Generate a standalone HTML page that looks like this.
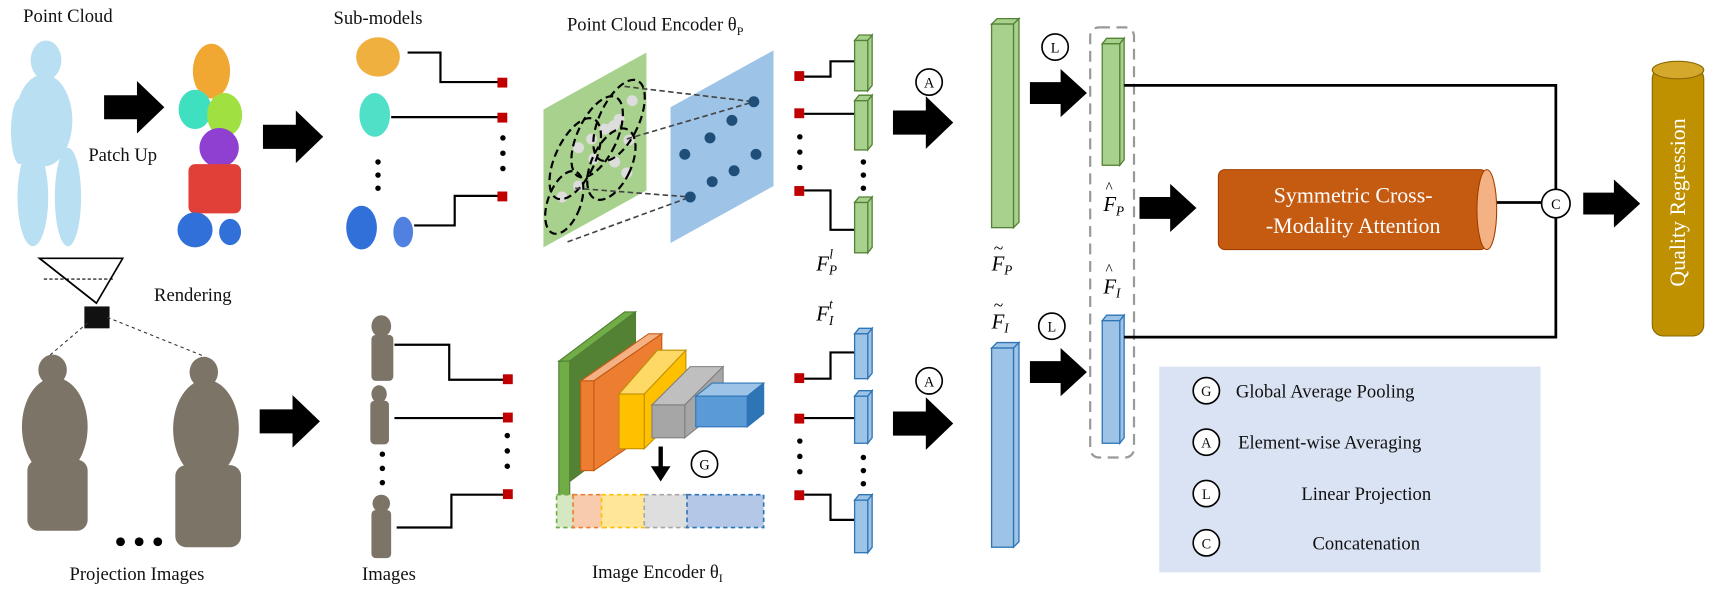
<!DOCTYPE html>
<html><head><meta charset="utf-8"><style>
html,body{margin:0;padding:0;background:#fff;}
svg{display:block;}
text{font-family:"Liberation Serif",serif;}
</style></head><body>
<svg width="1718" height="591" viewBox="0 0 1568 540" preserveAspectRatio="none" xmlns="http://www.w3.org/2000/svg">
<defs>
<g id="arr"><polygon points="0,-11 30,-11 30,-24 55,0 30,24 30,11 0,11" fill="#000"/></g>
<g id="arrS"><polygon points="0,-10 28,-10 28,-22 52,0 28,22 28,10 0,10" fill="#000"/></g>
</defs>
<rect width="1568" height="540" fill="#fff"/>

<!-- titles -->
<g font-size="17" fill="#111" text-anchor="middle">
<text x="62" y="20">Point Cloud</text>
<text x="345" y="22">Sub-models</text>
<text x="598" y="28">Point Cloud Encoder θ<tspan font-size="11" dy="4">P</tspan></text>
<text x="125" y="530">Projection Images</text>
<text x="355" y="530">Images</text>
<text x="600" y="528">Image Encoder θ<tspan font-size="11" dy="4">I</tspan></text>
<text x="112" y="147">Patch Up</text>
<text x="176" y="275">Rendering</text>
</g>

<!-- point cloud figure -->
<g fill="#a8d8ef" opacity="0.8">
<ellipse cx="42" cy="55" rx="14" ry="18"/>
<ellipse cx="40" cy="110" rx="26" ry="42"/>
<ellipse cx="30" cy="180" rx="14" ry="45"/>
<ellipse cx="62" cy="180" rx="12" ry="45"/>
<ellipse cx="18" cy="120" rx="8" ry="30"/>
</g>
<use href="#arr" x="95" y="98"/>
<!-- colored figure -->
<ellipse cx="193" cy="65" rx="17" ry="25" fill="#f0a832"/>
<ellipse cx="178" cy="100" rx="15" ry="18" fill="#3ee0c0"/>
<ellipse cx="205" cy="105" rx="16" ry="20" fill="#a0e040"/>
<ellipse cx="200" cy="135" rx="18" ry="18" fill="#9040d0"/>
<rect x="172" y="150" width="48" height="45" fill="#e04038" rx="6"/>
<ellipse cx="178" cy="210" rx="16" ry="16" fill="#3070d8"/>
<ellipse cx="210" cy="212" rx="10" ry="12" fill="#3070d8"/>
<use href="#arr" x="240" y="125"/>

<!-- sub-models -->
<ellipse cx="345" cy="52" rx="20" ry="18" fill="#f0b040"/>
<ellipse cx="342" cy="105" rx="14" ry="20" fill="#50e0c8"/>
<ellipse cx="330" cy="208" rx="14" ry="20" fill="#3070d8"/>
<ellipse cx="368" cy="212" rx="9" ry="14" fill="#5080e0"/>
<g fill="#000"><circle cx="345" cy="148" r="2.5"/><circle cx="345" cy="160" r="2.5"/><circle cx="345" cy="172" r="2.5"/>
<circle cx="459" cy="126" r="2.5"/><circle cx="459" cy="140" r="2.5"/><circle cx="459" cy="154" r="2.5"/></g>
<g stroke="#000" stroke-width="2" fill="none">
<polyline points="372,48 402,48 402,75 456,75"/>
<polyline points="357,107 456,107"/>
<polyline points="378,206 415,206 415,179 456,179"/>
</g>
<g fill="#c00000"><rect x="454" y="71" width="9" height="9"/><rect x="454" y="103" width="9" height="9"/><rect x="454" y="175" width="9" height="9"/></g>

<!-- point cloud encoder -->
<polygon points="496,100 590,48 590,174 496,226" fill="#a9d18e"/>
<polygon points="612,98 706,46 706,170 612,222" fill="#9dc3e6"/>
<g fill="#ddd">
<circle cx="577" cy="92" r="5"/><circle cx="565" cy="109" r="5"/><circle cx="552" cy="118" r="5"/><circle cx="540" cy="127" r="5"/><circle cx="528" cy="135" r="5"/>
<circle cx="574" cy="128" r="5"/><circle cx="561" cy="148" r="5"/><circle cx="542" cy="145" r="5"/><circle cx="528" cy="170" r="5"/><circle cx="572" cy="158" r="5"/><circle cx="513" cy="180" r="5"/><circle cx="560" cy="115" r="5"/>
</g>
<g fill="none" stroke="#000" stroke-width="2" stroke-dasharray="7,4">
<ellipse cx="565" cy="110" rx="18" ry="40" transform="rotate(25 565 110)"/>
<ellipse cx="545" cy="125" rx="18" ry="40" transform="rotate(25 545 125)"/>
<ellipse cx="525" cy="145" rx="18" ry="40" transform="rotate(25 525 145)"/>
<ellipse cx="558" cy="150" rx="18" ry="35" transform="rotate(25 558 150)"/>
<ellipse cx="515" cy="185" rx="15" ry="30" transform="rotate(20 515 185)"/>
</g>
<g stroke="#444" stroke-width="1.5" stroke-dasharray="5,3">
<line x1="570" y1="79" x2="688" y2="93"/><line x1="572" y1="127" x2="688" y2="93"/>
<line x1="525" y1="172" x2="630" y2="180"/><line x1="518" y1="221" x2="630" y2="180"/>
</g>
<g fill="#1f4e79">
<circle cx="688" cy="93" r="5"/><circle cx="668" cy="110" r="5"/><circle cx="648" cy="126" r="5"/><circle cx="625" cy="141" r="5"/><circle cx="690" cy="141" r="5"/><circle cx="670" cy="156" r="5"/><circle cx="650" cy="166" r="5"/><circle cx="630" cy="180" r="5"/>
</g>

<!-- point features -->
<g fill="#c00000"><rect x="725" y="65" width="9" height="9"/><rect x="725" y="99" width="9" height="9"/><rect x="725" y="170" width="9" height="9"/></g>
<g stroke="#000" stroke-width="2" fill="none">
<polyline points="734,70 758,70 758,56 782,56"/>
<polyline points="734,104 782,104"/>
<polyline points="734,174 758,174 758,210 782,210"/>
</g>
<g fill="#a9d18e" stroke="#548235" stroke-width="1.2">
<polygon points="780,37 784,32 796,32 792,37"/><polygon points="792,37 796,32 796,78 792,83"/><rect x="780" y="37" width="12" height="46"/>
<polygon points="780,92 784,87 796,87 792,92"/><polygon points="792,92 796,87 796,132 792,137"/><rect x="780" y="92" width="12" height="45"/>
<polygon points="780,185 784,180 796,180 792,185"/><polygon points="792,185 796,180 796,226 792,231"/><rect x="780" y="185" width="12" height="46"/>
</g>
<g fill="#000"><circle cx="730" cy="125" r="2.5"/><circle cx="730" cy="139" r="2.5"/><circle cx="730" cy="153" r="2.5"/>
<circle cx="788" cy="148" r="2.5"/><circle cx="788" cy="160" r="2.5"/><circle cx="788" cy="172" r="2.5"/></g>
<text x="745" y="247" font-size="19" font-style="italic">F<tspan font-size="12" dy="4">P</tspan><tspan font-size="12" dx="-7" dy="-15">l</tspan></text>

<!-- A / arrow top -->
<circle cx="848" cy="75" r="12" fill="#fff" stroke="#000" stroke-width="1.5"/><text x="848" y="80" font-size="13" text-anchor="middle">A</text>
<use href="#arr" x="815" y="112" transform="translate(0,0)"/>
<g fill="#a9d18e" stroke="#548235" stroke-width="1.2">
<polygon points="905,22 910,17 930,17 925,22"/><polygon points="925,22 930,17 930,203 925,208"/><rect x="905" y="22" width="20" height="186"/>
</g>
<text x="905" y="247" font-size="19" font-style="italic">F<tspan font-size="12" dy="4">P</tspan></text><text x="907" y="232" font-size="16">~</text>
<circle cx="963" cy="43" r="12" fill="#fff" stroke="#000" stroke-width="1.5"/><text x="963" y="48" font-size="13" text-anchor="middle">L</text>
<use href="#arrS" x="940" y="85"/>

<!-- dashed box -->
<rect x="995" y="25" width="40" height="393" rx="8" fill="none" stroke="#999" stroke-width="2" stroke-dasharray="10,6"/>
<g fill="#a9d18e" stroke="#548235" stroke-width="1.2">
<polygon points="1006,40 1010,35 1026,35 1022,40"/><polygon points="1022,40 1026,35 1026,146 1022,151"/><rect x="1006" y="40" width="16" height="111"/>
</g>
<g fill="#9dc3e6" stroke="#2e75b6" stroke-width="1.2">
<polygon points="1006,293 1010,288 1026,288 1022,293"/><polygon points="1022,293 1026,288 1026,400 1022,405"/><rect x="1006" y="293" width="16" height="112"/>
</g>
<text x="1007" y="193" font-size="19" font-style="italic">F<tspan font-size="12" dy="4">P</tspan></text><text x="1009" y="176" font-size="14">^</text>
<text x="1007" y="268" font-size="19" font-style="italic">F<tspan font-size="12" dy="4">I</tspan></text><text x="1009" y="251" font-size="14">^</text>

<!-- lines to C -->
<g stroke="#000" stroke-width="2.5" fill="none">
<polyline points="1026,78 1420,78 1420,308 1026,308"/>
<line x1="1365" y1="185" x2="1410" y2="185"/>
</g>
<circle cx="1420" cy="186" r="13" fill="#fff" stroke="#000" stroke-width="1.5"/><text x="1420" y="191" font-size="13" text-anchor="middle">C</text>
<use href="#arrS" x="1040" y="190"/>
<use href="#arrS" x="1445" y="186"/>

<!-- attention cylinder -->
<rect x="1112" y="155" width="245" height="73" rx="6" fill="#c55a11" stroke="#a04000"/>
<ellipse cx="1357" cy="191.5" rx="9" ry="36.5" fill="#f4b183" stroke="#a04000"/>
<text x="1235" y="185" font-size="20" fill="#fff" text-anchor="middle">Symmetric Cross-</text>
<text x="1235" y="213" font-size="20" fill="#fff" text-anchor="middle">-Modality Attention</text>

<!-- quality regression -->
<rect x="1508" y="62" width="47" height="245" rx="10" fill="#bf9000" stroke="#8a6800"/>
<ellipse cx="1531.5" cy="64" rx="23.5" ry="8" fill="#d4a82a" stroke="#8a6800"/>
<text transform="translate(1538,185) rotate(-90)" font-size="20" fill="#fff" text-anchor="middle">Quality Regression</text>

<!-- rendering camera -->
<polygon points="36,236 112,236 88,277" fill="none" stroke="#000" stroke-width="1.5"/>
<line x1="36" y1="236" x2="88" y2="277" stroke="#000" stroke-width="1.5"/>
<line x1="40" y1="255" x2="105" y2="255" stroke="#000" stroke-dasharray="3,2"/>
<rect x="77" y="280" width="23" height="20" fill="#111"/>
<g stroke="#333" stroke-dasharray="3,3"><line x1="80" y1="295" x2="45" y2="325"/><line x1="98" y1="290" x2="185" y2="325"/></g>
<!-- soldiers -->
<g fill="#7d7468">
<ellipse cx="48" cy="338" rx="13" ry="14"/><ellipse cx="50" cy="390" rx="30" ry="45"/><rect x="25" y="420" width="55" height="65" rx="10"/>
<ellipse cx="186" cy="340" rx="13" ry="14"/><ellipse cx="188" cy="392" rx="30" ry="45"/><rect x="160" y="425" width="60" height="75" rx="10"/>
<ellipse cx="348" cy="298" rx="9" ry="10"/><rect x="339" y="306" width="20" height="42" rx="4"/>
<ellipse cx="346" cy="360" rx="7" ry="8"/><rect x="338" y="366" width="17" height="40" rx="4"/>
<ellipse cx="348" cy="460" rx="8" ry="8"/><rect x="339" y="466" width="18" height="44" rx="4"/>
</g>
<g fill="#000"><circle cx="110" cy="495" r="4"/><circle cx="127" cy="495" r="4"/><circle cx="144" cy="495" r="4"/>
<circle cx="349" cy="415" r="2.5"/><circle cx="349" cy="428" r="2.5"/><circle cx="349" cy="441" r="2.5"/>
<circle cx="463" cy="398" r="2.5"/><circle cx="463" cy="412" r="2.5"/><circle cx="463" cy="426" r="2.5"/></g>
<use href="#arr" x="237" y="385"/>
<g stroke="#000" stroke-width="2" fill="none">
<polyline points="360,315 410,315 410,347 462,347"/>
<polyline points="360,382 462,382"/>
<polyline points="362,482 412,482 412,452 462,452"/>
</g>
<g fill="#c00000"><rect x="459" y="342" width="9" height="9"/><rect x="459" y="377" width="9" height="9"/><rect x="459" y="447" width="9" height="9"/></g>

<!-- CNN -->
<polygon points="510,330 570,285 580,285 520,330" fill="#70ad47" stroke="#507e32"/>
<polygon points="520,330 580,285 580,395 520,440" fill="#548235" stroke="#507e32"/>
<rect x="510" y="330" width="10" height="130" fill="#70ad47" stroke="#507e32"/>
<polygon points="530,348 592,305 604,305 542,348" fill="#f4b183" stroke="#c55a11"/>
<polygon points="542,348 604,305 604,388 542,430" fill="#ed7d31" stroke="#c55a11"/>
<rect x="530" y="348" width="12" height="82" fill="#ed7d31" stroke="#c55a11"/>
<polygon points="565,360 600,320 626,320 591,360" fill="#ffd966" stroke="#bf9000"/>
<polygon points="588,360 626,320 626,372 588,410" fill="#ffc000" stroke="#bf9000"/>
<rect x="565" y="360" width="23" height="50" fill="#ffc000" stroke="#bf9000"/>
<polygon points="595,370 630,335 660,335 625,370" fill="#bfbfbf" stroke="#7f7f7f"/>
<polygon points="625,370 660,335 660,372 625,400" fill="#a6a6a6" stroke="#7f7f7f"/>
<rect x="595" y="370" width="30" height="30" fill="#a6a6a6" stroke="#7f7f7f"/>
<polygon points="635,362 650,350 697,350 682,362" fill="#9dc3e6" stroke="#2e75b6"/>
<polygon points="682,362 697,350 697,378 682,390" fill="#2e75b6" stroke="#2e75b6"/>
<rect x="635" y="362" width="47" height="28" fill="#5b9bd5" stroke="#2e75b6"/>
<line x1="603" y1="408" x2="603" y2="428" stroke="#000" stroke-width="4"/><polygon points="594,426 612,426 603,440" fill="#000"/>
<circle cx="643" cy="424" r="12" fill="#fff" stroke="#000" stroke-width="1.5"/><text x="643" y="429" font-size="13" text-anchor="middle">G</text>
<g stroke-width="1.5" stroke-dasharray="4,3">
<rect x="508" y="452" width="18" height="30" fill="#d5e8c4" stroke="#70ad47"/>
<rect x="523" y="452" width="28" height="30" fill="#f8cbad" stroke="#ed7d31"/>
<rect x="549" y="452" width="40" height="30" fill="#ffe699" stroke="#ffc000"/>
<rect x="588" y="452" width="40" height="30" fill="#dedede" stroke="#a6a6a6"/>
<rect x="627" y="452" width="70" height="30" fill="#b4c7e7" stroke="#2e75b6"/>
</g>

<!-- image features -->
<g fill="#c00000"><rect x="725" y="341" width="9" height="9"/><rect x="725" y="378" width="9" height="9"/><rect x="725" y="448" width="9" height="9"/></g>
<g stroke="#000" stroke-width="2" fill="none">
<polyline points="734,346 758,346 758,322 782,322"/>
<polyline points="734,382 782,382"/>
<polyline points="734,452 758,452 758,475 782,475"/>
</g>
<g fill="#9dc3e6" stroke="#2e75b6" stroke-width="1.2">
<polygon points="780,305 784,300 796,300 792,305"/><polygon points="792,305 796,300 796,341 792,346"/><rect x="780" y="305" width="12" height="41"/>
<polygon points="780,362 784,357 796,357 792,362"/><polygon points="792,362 796,357 796,400 792,405"/><rect x="780" y="362" width="12" height="43"/>
<polygon points="780,457 784,452 796,452 792,457"/><polygon points="792,457 796,452 796,500 792,505"/><rect x="780" y="457" width="12" height="48"/>
</g>
<g fill="#000"><circle cx="730" cy="403" r="2.5"/><circle cx="730" cy="417" r="2.5"/><circle cx="730" cy="431" r="2.5"/>
<circle cx="788" cy="418" r="2.5"/><circle cx="788" cy="430" r="2.5"/><circle cx="788" cy="442" r="2.5"/></g>
<text x="745" y="293" font-size="19" font-style="italic">F<tspan font-size="12" dy="4">I</tspan><tspan font-size="12" dx="-4" dy="-15">t</tspan></text>

<circle cx="848" cy="348" r="12" fill="#fff" stroke="#000" stroke-width="1.5"/><text x="848" y="353" font-size="13" text-anchor="middle">A</text>
<use href="#arr" x="815" y="387"/>
<g fill="#9dc3e6" stroke="#2e75b6" stroke-width="1.2">
<polygon points="905,318 910,313 930,313 925,318"/><polygon points="925,318 930,313 930,495 925,500"/><rect x="905" y="318" width="20" height="182"/>
</g>
<text x="905" y="300" font-size="19" font-style="italic">F<tspan font-size="12" dy="4">I</tspan></text><text x="907" y="284" font-size="16">~</text>
<circle cx="960" cy="298" r="12" fill="#fff" stroke="#000" stroke-width="1.5"/><text x="960" y="303" font-size="13" text-anchor="middle">L</text>
<use href="#arrS" x="940" y="340"/>

<!-- legend -->
<rect x="1058" y="335" width="348" height="188" fill="#dae3f3"/>
<g font-size="17" fill="#111">
<circle cx="1101" cy="357" r="12" fill="#fff" stroke="#000" stroke-width="1.5"/><text x="1101" y="362" font-size="13" text-anchor="middle">G</text>
<text x="1128" y="363">Global Average Pooling</text>
<circle cx="1101" cy="404" r="12" fill="#fff" stroke="#000" stroke-width="1.5"/><text x="1101" y="409" font-size="13" text-anchor="middle">A</text>
<text x="1130" y="410">Element-wise Averaging</text>
<circle cx="1101" cy="451" r="12" fill="#fff" stroke="#000" stroke-width="1.5"/><text x="1101" y="456" font-size="13" text-anchor="middle">L</text>
<text x="1247" y="457" text-anchor="middle">Linear Projection</text>
<circle cx="1101" cy="496" r="12" fill="#fff" stroke="#000" stroke-width="1.5"/><text x="1101" y="501" font-size="13" text-anchor="middle">C</text>
<text x="1247" y="502" text-anchor="middle">Concatenation</text>
</g>
</svg>
</body></html>
